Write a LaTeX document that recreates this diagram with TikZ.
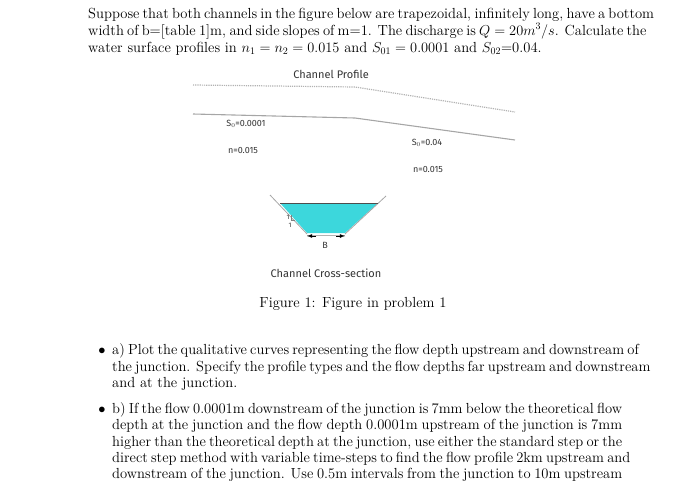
\documentclass[tikz,border=0pt]{standalone}
\usepackage{fontspec}
\newfontfamily\hand{Fira Sans}
\usepackage{amsmath}
\definecolor{water}{RGB}{60,215,220}
\begin{document}
\begin{tikzpicture}[x=1pt,y=-1pt,
  ln/.style={anchor=base west,inner sep=0pt,font=\fontsize{14.6}{17}\selectfont},
  lab/.style={font=\hand\fontsize{9}{10}\selectfont,text=black!80,inner sep=1pt},
  bank/.style={draw=gray!70,line width=0.8pt}]
\useasboundingbox (0,0) rectangle (700,490);
\newcommand\jl[1]{\makebox[534pt][s]{#1}}
\newcommand\jb[1]{\makebox[510pt][s]{#1}}
\node[ln] (t1) at (88,18) {\jl{Suppose that both channels in the figure below are trapezoidal, infinitely long, have a bottom}};
\node[ln] (t2) at (88,35) {\jl{width of b=[table 1]m, and side slopes of m=1. The discharge is $Q=20m^3/s$. Calculate the}};
\node[ln] (t3) at (88,52) {water surface profiles in $n_1=n_2=0.015$ and $S_{01}=0.0001$ and $S_{02}$=0.04.};
\node[lab,font=\hand\fontsize{11}{12}\selectfont] (cp) at (331,74) {Channel Profile};
\draw[gray!60,line width=1.2pt,densely dotted] (193,85) -- (355,87) -- (515,112);
\draw[gray!70,line width=1.1pt] (193,114) -- (355,118) -- (515,140);
\node[lab] (s1) at (246,124) {S$_0$=0.0001};
\node[lab] (n1) at (243,150) {n=0.015};
\node[lab] (s2) at (427,143) {S$_0$=0.04};
\node[lab] (n2) at (428,169) {n=0.015};
\fill[water] (280,203) -- (378,203) -- (345,233) -- (307,233) -- cycle;
\draw[bank] (270,195) -- (307,234);
\draw[bank] (345,234) -- (386,196);
\draw[black!70,line width=0.6pt] (280,203) -- (378,203);
\draw[gray!60,line width=0.8pt] (307,235) -- (345,235);
\coordinate (bl) at (307,236); \coordinate (br) at (345,236);
\draw[-latex,line width=0.8pt] (316,236) -- (bl);
\draw[-latex,line width=0.8pt] (336,236) -- (br);
\node[lab] (b) at (325,245) {B};
\node[lab,font=\hand\fontsize{6.5}{7}\selectfont] (one1) at (288,217) {1};
\node[lab,font=\hand\fontsize{6.5}{7}\selectfont] (one2) at (290,225) {1};
\draw[gray,line width=0.4pt] (291,215) -- (291,220) -- (295,220);
\node[lab,font=\hand\fontsize{11}{12}\selectfont] (cs) at (326,273) {Channel Cross-section};
\node[ln,anchor=base] (fig) at (353,307) {Figure 1: Figure in problem 1};
\node[ln,anchor=base] at (102,354) {$\bullet$};
\node[ln] at (112,354) {\jb{a) Plot the qualitative curves representing the flow depth upstream and downstream of}};
\node[ln] at (112,371) {\jb{the junction. Specify the profile types and the flow depths far upstream and downstream}};
\node[ln] at (112,387) {and at the junction.};
\node[ln,anchor=base] at (102,413) {$\bullet$};
\node[ln] at (112,413) {\jb{b) If the flow 0.0001m downstream of the junction is 7mm below the theoretical flow}};
\node[ln] at (112,429) {\jb{depth at the junction and the flow depth 0.0001m upstream of the junction is 7mm}};
\node[ln] at (112,446) {\jb{higher than the theoretical depth at the junction, use either the standard step or the}};
\node[ln] at (112,462) {\jb{direct step method with variable time-steps to find the flow profile 2km upstream and}};
\node[ln] at (112,478) {\jb{downstream of the junction. Use 0.5m intervals from the junction to 10m upstream}};
\end{tikzpicture}
\end{document}
